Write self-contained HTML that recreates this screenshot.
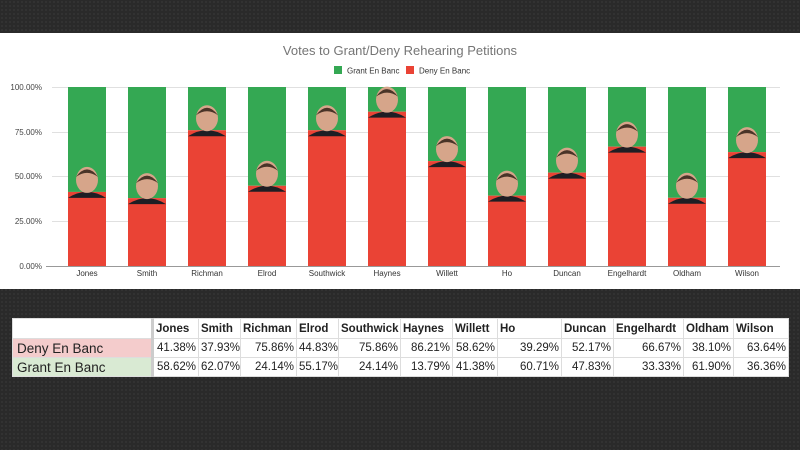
<!DOCTYPE html>
<html><head><meta charset="utf-8"><style>
body{margin:0;width:800px;height:450px;overflow:hidden;background:#2a2a2a;background-image:radial-gradient(#333 1px,transparent 1.2px);background-size:4px 4px;font-family:"Liberation Sans",Arial,sans-serif}
.panel{position:absolute;left:0;top:33px;width:800px;height:256px;background:#fff}
table{position:absolute;left:12px;top:318px;width:776px;table-layout:fixed;border-collapse:collapse;background:#fff;font-size:11.5px;color:#222}
td{height:18px;padding:0 2px;border:1px solid #ddd;white-space:nowrap;text-align:right;overflow:hidden}
tr.h td{font-weight:bold;text-align:left;font-size:11.5px;height:19px}
td.l{text-align:left;font-size:13.5px;padding-left:4px}
</style></head><body>
<div class="panel"></div>
<svg style="position:absolute;left:0;top:0" width="800" height="300" font-family="Liberation Sans,Arial,sans-serif">
<text x="400" y="55" text-anchor="middle" font-size="13" fill="#757575">Votes to Grant/Deny Rehearing Petitions</text>
<rect x="334" y="66" width="8" height="8" fill="#34a853"/><text x="347" y="73.5" font-size="8" fill="#333">Grant En Banc</text>
<rect x="406" y="66" width="8" height="8" fill="#ea4335"/><text x="419" y="73.5" font-size="8" fill="#333">Deny En Banc</text>
<g stroke="#e0e0e0" stroke-width="1">
<line x1="52" x2="780" y1="87.5" y2="87.5"/><line x1="52" x2="780" y1="132.5" y2="132.5"/><line x1="52" x2="780" y1="176.5" y2="176.5"/><line x1="52" x2="780" y1="221.5" y2="221.5"/></g>
<line x1="46" x2="780" y1="266.5" y2="266.5" stroke="#999"/>
<g font-size="8" fill="#444" text-anchor="end">
<text x="42" y="90">100.00%</text><text x="42" y="135">75.00%</text><text x="42" y="179">50.00%</text><text x="42" y="224">25.00%</text><text x="42" y="269">0.00%</text></g>
<g id="bars"></g>
</svg>
<table>
<colgroup><col style="width:140px"><col style="width:46px"><col style="width:42px"><col style="width:56px"><col style="width:42px"><col style="width:62px"><col style="width:52px"><col style="width:45px"><col style="width:64px"><col style="width:52px"><col style="width:70px"><col style="width:50px"><col style="width:55px"></colgroup>
<tr class="h"><td style="border-right:3px solid #ccc"></td><td>Jones</td><td>Smith</td><td>Richman</td><td>Elrod</td><td>Southwick</td><td>Haynes</td><td>Willett</td><td>Ho</td><td>Duncan</td><td>Engelhardt</td><td>Oldham</td><td>Wilson</td></tr>
<tr><td class="l" style="background:#f4cccc;border-right:3px solid #ccc">Deny En Banc</td><td>41.38%</td><td>37.93%</td><td>75.86%</td><td>44.83%</td><td>75.86%</td><td>86.21%</td><td>58.62%</td><td>39.29%</td><td>52.17%</td><td>66.67%</td><td>38.10%</td><td>63.64%</td></tr>
<tr><td class="l" style="background:#d9ead3;border-right:3px solid #ccc">Grant En Banc</td><td>58.62%</td><td>62.07%</td><td>24.14%</td><td>55.17%</td><td>24.14%</td><td>13.79%</td><td>41.38%</td><td>60.71%</td><td>47.83%</td><td>33.33%</td><td>61.90%</td><td>36.36%</td></tr>
</table>
<script>
var n=["Jones","Smith","Richman","Elrod","Southwick","Haynes","Willett","Ho","Duncan","Engelhardt","Oldham","Wilson"];
var d=[41.38,37.93,75.86,44.83,75.86,86.21,58.62,39.29,52.17,66.67,38.10,63.64];
var s="";
for(var i=0;i<12;i++){var c=87+60*i,x=c-19,y=266-d[i]*1.79;
s+='<rect x="'+x+'" y="87" width="38" height="'+(y-87)+'" fill="#34a853"/>';
s+='<rect x="'+x+'" y="'+y+'" width="38" height="'+(266-y)+'" fill="#ea4335"/>';
var hy=y-12;
s+='<path d="M'+(c-19)+' '+(y+6)+' Q'+c+' '+(y-6)+' '+(c+19)+' '+(y+6)+' Z" fill="#1e1e24"/>';
s+='<ellipse cx="'+c+'" cy="'+hy+'" rx="11" ry="13" fill="#d6a58a"/>';
s+='<path d="M'+(c-11)+' '+(hy-3)+' Q'+c+' '+(hy-18)+' '+(c+11)+' '+(hy-3)+' Q'+c+' '+(hy-11)+' '+(c-11)+' '+(hy-3)+' Z" fill="#4a3428"/>';
s+='<text x="'+c+'" y="276" font-size="8" fill="#333" text-anchor="middle">'+n[i]+'</text>';}
document.getElementById("bars").innerHTML=s;
</script>
</body></html>
